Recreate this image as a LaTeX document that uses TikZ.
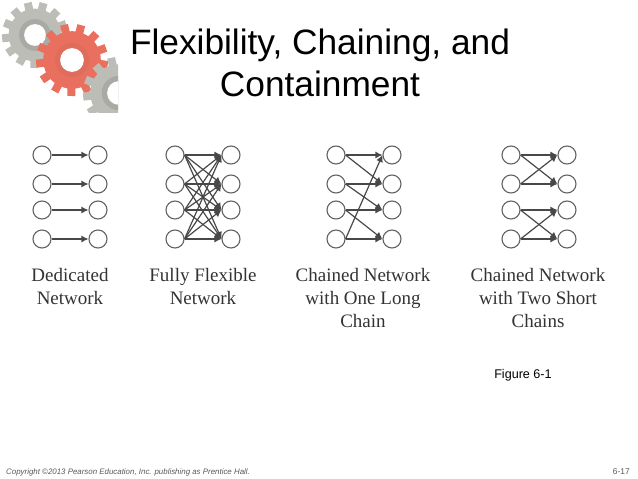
\documentclass[tikz,border=0pt]{standalone}
\usepackage{fontspec}
\setmainfont{Liberation Sans}
\newfontfamily\capfont{Liberation Serif}
\usetikzlibrary{%
    arrows.meta,
    positioning
}
\definecolor{gearred}{HTML}{E9705F}
\definecolor{geargrey}{HTML}{BDBDB8}
\definecolor{wirecol}{HTML}{484848}
\tikzset{headarrow/.style = {-{Latex[length=7pt,width=7pt]}, wirecol, line width=1.2pt}}
\tikzset{port/.style = {circle, draw=wirecol!85, line width=1.1pt, minimum size=18pt, inner sep=0pt}}
\tikzset{netlabel/.style = {font=\capfont\fontsize{19}{23}\selectfont, align=center, anchor=north, text=black!80}}
\newcommand{\gear}[5]{% centre x, centre y, outer radius, colour, ring colour
    \foreach \a in {0,27.7,...,340}
        \draw[#4, line width=8pt] (#1,#2) ++(\a+8:#3*.6) -- ++(\a+8:#3*.4);
    \fill[#4] (#1,#2) circle (#3*.8);
    \fill[#5] (#1,#2) circle (#3*.48);
    \fill[white] (#1,#2) circle (#3*.33);
}

\begin{document}
\begin{tikzpicture}[x=1pt, y=-1pt]
    \useasboundingbox (0,0) rectangle (638,479);

    % gears
    \gear{35}{35}{33}{geargrey}{geargrey!90!black}
    \gear{72}{60}{36}{gearred}{gearred!96!black}
    \begin{scope}
        \clip (70,50) rectangle (118,112);
        \gear{119}{93}{36}{geargrey}{geargrey!90!black}
    \end{scope}

    \node[font=\fontsize{35.3}{42}\selectfont, align=center] (title) at (320,63) {Flexibility, Chaining, and\\Containment};

    % four networks
    \foreach \net/\lx/\rx in {ded/42/98, full/175/231, one/336/392, two/511/567}
        \foreach \row/\y in {1/155, 2/184, 3/210, 4/239} {
            \node[port] (\net-l-\row) at (\lx,\y) {};
            \node[port] (\net-r-\row) at (\rx,\y) {};
        }

    \foreach \row in {1,2,3,4}
        \draw[headarrow] (ded-l-\row.east) -- (ded-r-\row.west);

    \foreach \i in {1,2,3,4}
        \foreach \j in {1,2,3,4}
            \draw[headarrow] (full-l-\i.east) -- (full-r-\j.west);

    \foreach \i/\j in {1/1, 1/2, 2/2, 2/3, 3/3, 3/4, 4/4, 4/1}
        \draw[headarrow] (one-l-\i.east) -- (one-r-\j.west);

    \foreach \i/\j in {1/1, 1/2, 2/1, 2/2, 3/3, 3/4, 4/3, 4/4}
        \draw[headarrow] (two-l-\i.east) -- (two-r-\j.west);

    \node[netlabel] (lab-ded) at (70,265) {Dedicated\\Network};
    \node[netlabel] (lab-full) at (203,265) {Fully Flexible\\Network};
    \node[netlabel] (lab-one) at (363,265) {Chained Network\\with One Long\\Chain};
    \node[netlabel] (lab-two) at (538,265) {Chained Network\\with Two Short\\Chains};

    \node[font=\fontsize{12.6}{14}\selectfont] (fig) at (523,375) {Figure 6-1};
    \node[font=\itshape\fontsize{7.9}{10}\selectfont, text=black!65, anchor=west, inner sep=0pt] (copy) at (6,472) {Copyright ©2013 Pearson Education, Inc. publishing as Prentice Hall.};
    \node[font=\fontsize{8.4}{10}\selectfont, text=black!65, anchor=east, inner sep=0pt] (page) at (630,472) {6-17};
\end{tikzpicture}
\end{document}
